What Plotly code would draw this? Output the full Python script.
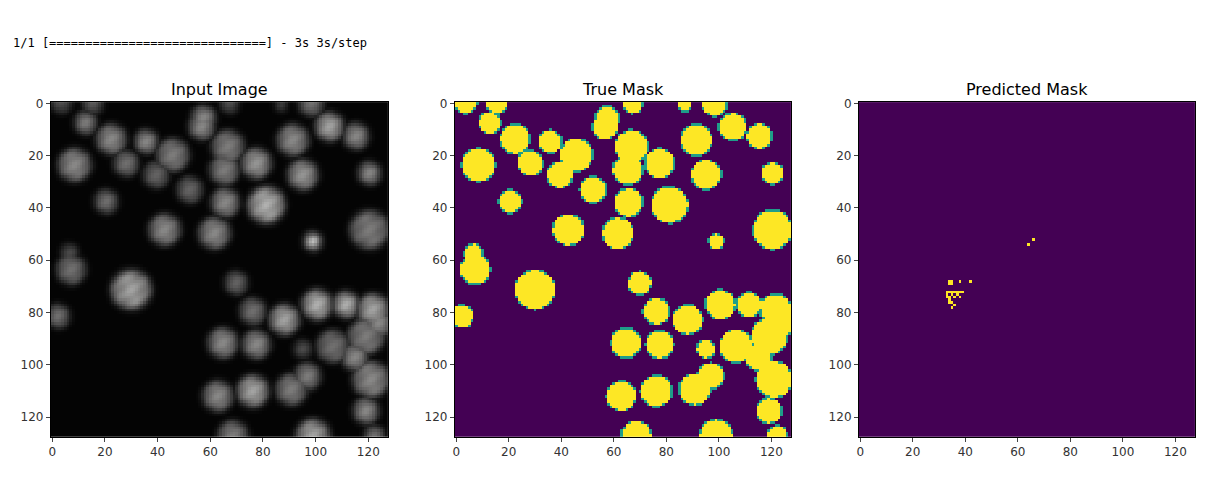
import numpy as np
import plotly.graph_objects as go

# cells: centre x, centre y, radius (pixels), brightness in input image
cell_x = [3.4,15.4,12.7,22.4,35.7,45.8,39.5,28.1,8.5,20.5,52.2,56.8,66.7,65.4,77.5,65.7,81.3,91.4,95.2,105.3,
          115.4,120.5,98.4,87,67.3,42.7,61.6,99,120.5,6.6,7.2,30,2.2,69.9,76.2,88.2,100.6,111.6,121.8,64.8,
          77.5,95.2,106.6,119.2,121.1,62.9,76.2,90.8,97,119.2,68.6,99,122.4,115,57.5,124]
cell_y = [-0.6,0,7.4,13.7,14.6,19.7,27.3,22.9,23.5,37.5,33,8.9,16.5,25.4,22.9,37.9,38.8,14,27.3,8.9,
          12.5,26.7,0,0.6,0,48.3,49.6,52.7,48.3,57.2,63.5,71.2,81.3,68.6,79.4,82.6,76.9,76.9,78.8,91.5,
          92.1,93.8,92.8,89,105.5,111.8,109.9,109.3,104.2,117.5,127,127,127,97,5.5,84]
cell_r = [4.4,4,4.2,5.7,4.4,6.3,5,4.8,6.3,4.4,5,4.8,6.3,5.7,5.7,5.4,7,6,5.7,5.3,
          4.8,4.2,4.8,2.5,3.8,6,6,3,7.5,3.5,5.7,7.6,4.4,4.4,5,5.7,5.7,4.8,6,5.7,
          5.3,3.5,6.3,7,7,5.7,6,6,5,4.8,5.7,6.3,3.8,5,4.5,5]
cell_b = [0.35,0.4,0.55,0.6,0.6,0.55,0.45,0.5,0.6,0.5,0.45,0.6,0.55,0.55,0.65,0.6,0.75,0.6,0.65,0.7,
          0.6,0.6,0.5,0.3,0.35,0.6,0.6,0.85,0.55,0.35,0.5,0.7,0.5,0.45,0.5,0.7,0.75,0.75,0.7,0.6,
          0.6,0.35,0.5,0.55,0.6,0.6,0.7,0.55,0.55,0.6,0.55,0.7,0.5,0.6,0.6,0.6]

# predicted mask pixels (x, y)
pred_x = [34,35,34,35,38,42,64,66,33,34,35,36,37,38,39,33,35,37,33,34,36,38,34,34,35,36,35]
pred_y = [68,68,69,69,68,68,54,52,72,72,72,72,72,72,72,73,73,73,74,74,74,74,75,76,76,77,78]

titles = ["Input Image", "True Mask", "Predicted Mask"]
tick_vals = [0, 20, 40, 60, 80, 100, 120]
progress_text = "1/1 [==============================] - 3s 3s/step"

N = 128
yy, xx = np.mgrid[0:N, 0:N].astype(float)
img = np.full((N, N), 0.02)
mask = np.zeros((N, N))
for cx, cy, r, b in zip(cell_x, cell_y, cell_r, cell_b):
    d = np.hypot(xx - cx, yy - cy)
    prof = 1 / (1 + np.exp((d - r * 0.95) / 1.0))
    tex = 0.9 + 0.1 * np.cos(0.7 * (xx - cx) + 0.4 * (yy - cy)) * np.cos(0.6 * (yy - cy))
    img = np.maximum(img, b * prof * tex)
    mask = np.maximum(mask, np.clip(r - d + 0.5, 0, 1))
mask = np.where(mask > 0.75, 1, np.where(mask > 0.25, 0.55, 0))
pred = np.zeros((N, N))
for px, py in zip(pred_x, pred_y):
    pred[py, px] = 1

fig = go.Figure()
W, H = 1226, 504
dx, dy = 10, 12
doms = [((50-dx)/W, (388-dx)/W), ((455-dx)/W, (792-dx)/W), ((860-dx)/W, (1197-dx)/W)]
ydom = (1 - (440-dy)/H, 1 - (102-dy)/H)
zs = [img, mask, pred]
scales = ["gray", "Viridis", "Viridis"]
for i, (z, cs) in enumerate(zip(zs, scales)):
    sfx = "" if i == 0 else str(i + 1)
    fig.add_trace(go.Heatmap(z=z, colorscale=cs, zmin=0, zmax=1, showscale=False,
                             xaxis="x" + sfx, yaxis="y" + sfx, hoverinfo="skip"))
    ax = dict(domain=doms[i], range=[-0.5, 127.5], tickvals=tick_vals, ticks="outside", ticklen=4,
              showgrid=False, zeroline=False, showline=True, linecolor="black", mirror=True,
              tickfont=dict(size=12, color="#333"), anchor="y" + sfx)
    ay = dict(domain=ydom, range=[127.5, -0.5], tickvals=tick_vals, ticks="outside", ticklen=4,
              showgrid=False, zeroline=False, showline=True, linecolor="black", mirror=True,
              tickfont=dict(size=12, color="#333"), anchor="x" + sfx)
    fig.layout["xaxis" + sfx] = ax
    fig.layout["yaxis" + sfx] = ay
    fig.add_annotation(text=titles[i], x=(doms[i][0] + doms[i][1]) / 2, y=1 - (89-dy)/H, xref="paper",
                       yref="paper", showarrow=False, font=dict(size=16, color="black"),
                       xanchor="center", yanchor="middle")

fig.add_annotation(text=progress_text, x=0, y=1 - 21/H, xref="paper", yref="paper", xanchor="left",
                   showarrow=False, font=dict(family="DejaVu Sans Mono", size=12, color="black"))
fig.update_layout(width=W, height=H, margin=dict(l=0, r=0, t=0, b=0),
                  paper_bgcolor="white", plot_bgcolor="white", font=dict(family="DejaVu Sans"))
fig.write_html("out.html")
